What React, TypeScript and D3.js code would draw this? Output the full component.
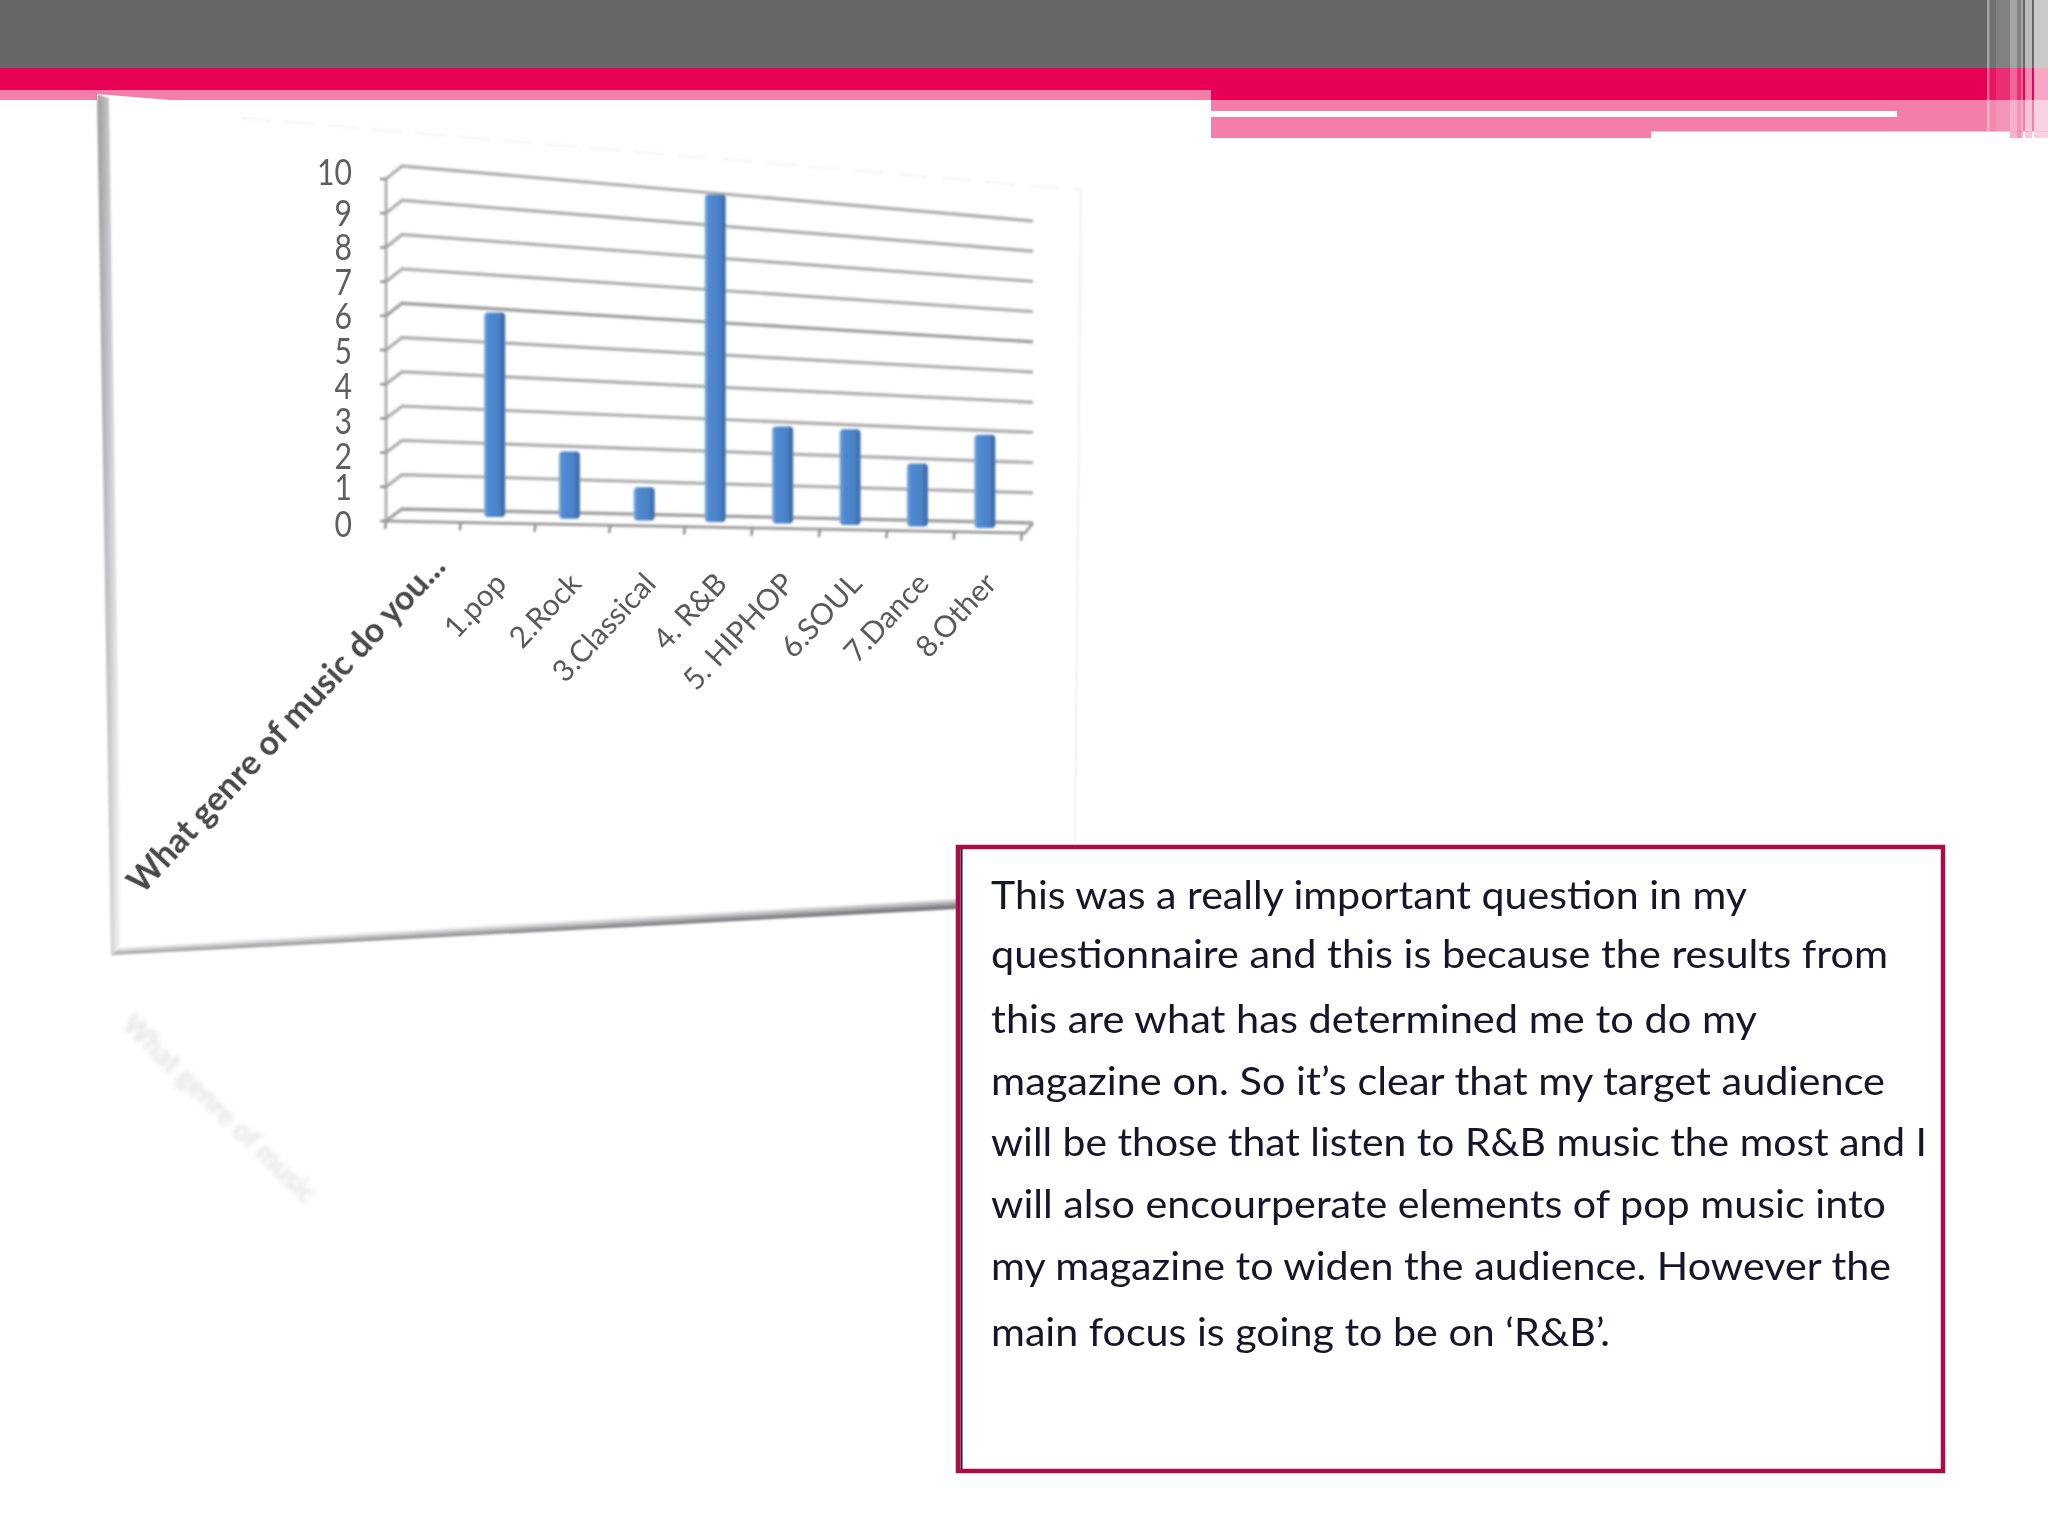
import React, { useEffect, useRef } from "react";
import * as d3 from "d3";

const categories = [
	"What genre of music do you...",
	"1.pop",
	"2.Rock",
	"3.Classical",
	"4. R&B",
	"5. HIPHOP",
	"6.SOUL",
	"7.Dance",
	"8.Other",
];
const responses = [0, 6, 2, 1, 10, 3, 3, 2, 3];
const yTicks = [0, 1, 2, 3, 4, 5, 6, 7, 8, 9, 10];

const noteLines = [
	"This was a really important question in my",
	"questionnaire and this is because the results from",
	"this are what has determined me to do my",
	"magazine on. So it\u2019s clear that my target audience",
	"will be those that listen to R&B music the most and I",
	"will also encourperate elements of pop music into",
	"my magazine to widen the audience. However the",
	"main focus is going to be on \u2018R&B\u2019.",
];
const noteBaselines = [909, 968, 1033, 1095, 1156, 1218, 1280, 1346];
const noteWidths = [756, 897, 766, 894, 936, 895, 900, 619];

// light stripes over the right end of the header: [x, width, white alpha]
const stripes = [
	[1987, 2.5, 0.4],
	[1989.5, 6.5, 0.08],
	[1996, 14, 0.18],
	[2010, 7, 0.4],
	[2017, 4, 0.18],
	[2021, 2, 0.4],
	[2025, 7, 0.55],
	[2034, 14, 0.65],
];

const App = () => {
	const svgRef = useRef<SVGSVGElement | null>(null);

	useEffect(() => {
		if (!svgRef.current) return;
		const svg = d3.select(svgRef.current);
		svg.selectAll("*").remove();

		const defs = svg.append("defs");
		const blur = (id: string, dev: number) =>
			defs
				.append("filter")
				.attr("id", id)
				.attr("x", "-20%")
				.attr("y", "-20%")
				.attr("width", "140%")
				.attr("height", "140%")
				.append("feGaussianBlur")
				.attr("stdDeviation", dev);
		blur("soft", 1.2);
		blur("softText", 0.7);
		blur("noteText", 0.5);
		blur("ghost", 2.6);

		const hGrad = (id: string, stops: [string, string][]) => {
			const g = defs.append("linearGradient").attr("id", id);
			stops.forEach(([o, c]) => g.append("stop").attr("offset", o).attr("stop-color", c));
			return g;
		};
		hGrad("barFill", [
			["0%", "#7fb0e4"],
			["18%", "#4f8ad2"],
			["70%", "#4a82c8"],
			["100%", "#3a64a0"],
		]);
		hGrad("bevelLeft", [
			["0%", "#9a9a9e"],
			["45%", "#c4c4c8"],
			["100%", "#ffffff"],
		]);
		hGrad("bevelBottom", [
			["0%", "#ffffff"],
			["55%", "#b8b8bc"],
			["100%", "#77777b"],
		])
			.attr("gradientUnits", "userSpaceOnUse")
			.attr("x1", 534)
			.attr("y1", 922)
			.attr("x2", 534.6)
			.attr("y2", 932);

		// header
		const header = svg.append("g");
		const band = (x: number, y: number, w: number, h: number, c: string) =>
			header.append("rect").attr("x", x).attr("y", y).attr("width", w).attr("height", h).attr("fill", c);
		band(0, 0, 2048, 68, "#666666");
		band(0, 68, 2048, 32, "#e70055");
		band(0, 90, 1211, 10, "#f27ea9");
		band(1211, 100, 837, 31.5, "#f27ea9");
		band(1211, 131, 440, 7, "#f27ea9");
		band(1211, 111, 686, 6, "#ffffff");
		header
			.selectAll("rect.stripe")
			.data(stripes)
			.join("rect")
			.attr("class", "stripe")
			.attr("x", (d) => d[0])
			.attr("y", 0)
			.attr("width", (d) => d[1])
			.attr("height", (d) => (d[0] >= 2010 ? 138 : 131.5))
			.attr("fill", "#ffffff")
			.attr("fill-opacity", (d) => d[2]);
		header
			.selectAll("rect.under")
			.data(stripes.filter((d) => d[0] >= 2010))
			.join("rect")
			.attr("class", "under")
			.attr("x", (d) => d[0])
			.attr("y", 131)
			.attr("width", (d) => d[1])
			.attr("height", 7)
			.attr("fill", "#f27ea9")
			.attr("fill-opacity", (d) => 1 - d[2]);

		// tilted picture frame
		const frame = svg.append("g");
		frame
			.append("polygon")
			.attr("points", "97,94 170,100 1081,190 1075,860 957,908 111,955")
			.attr("fill", "#ffffff");
		frame
			.append("polygon")
			.attr("points", "97,94 109,98 122,945 111,955")
			.attr("fill", "url(#bevelLeft)")
			.attr("filter", "url(#soft)");
		frame
			.append("polygon")
			.attr("points", "122,945 957,899 957,909 111,955")
			.attr("fill", "url(#bevelBottom)")
			.attr("filter", "url(#soft)");
		frame
			.append("path")
			.attr("d", "M1081,190L1075,843")
			.attr("stroke", "#f0f0f0")
			.attr("stroke-width", 2)
			.attr("filter", "url(#soft)");
		frame
			.append("path")
			.attr("d", "M240,118L1081,190")
			.attr("stroke", "#f6f6f6")
			.attr("stroke-width", 3)
			.attr("stroke-dasharray", "30 14")
			.attr("filter", "url(#soft)");

		// chart scales, one value scale for each end of the receding planes
		const xTick = d3.scaleLinear().domain([0, 4, 9]).range([386, 685, 1022]);
		const wallStart = d3.scaleLinear().domain([0, 10]).range([509, 166]);
		const wallEnd = d3.scaleLinear().domain([0, 10]).range([523, 221]);
		const frontStart = d3.scaleLinear().domain([0, 10]).range([521, 179]);
		const barStart = d3.scaleLinear().domain([0, 10]).range([517, 176]);
		const barEnd = d3.scaleLinear().domain([0, 10]).range([528, 217]);
		const barT = d3.scaleLinear().domain([494, 981]).range([0, 1]);
		const floorY = d3.scaleLinear().domain([386, 1025]).range([521, 533]);
		const labelY = d3.scaleLinear().domain([0, 1, 2, 5, 9, 10]).range([524, 487, 456, 351, 213, 172]);
		const barX = (i: number) => xTick(i + 0.5) - 3.5;
		const barY = (v: number, x: number) =>
			d3.interpolateNumber(barStart(v), barEnd(v))(barT(x));

		const chart = svg.append("g").attr("filter", "url(#soft)");
		const line = d3.line();

		chart
			.selectAll("path.grid")
			.data(yTicks)
			.join("path")
			.attr("class", "grid")
			.attr("d", (v) =>
				line([
					[386, frontStart(v)],
					[402, wallStart(v)],
					[1033, wallEnd(v)],
				])
			)
			.attr("fill", "none")
			.attr("stroke", (v) => (v === 6 || v === 0 ? "#a2a2a2" : "#b2b2b2"))
			.attr("stroke-width", 3.4);

		chart
			.append("path")
			.attr("d", line([[386, frontStart(0)], [386, frontStart(10)]]))
			.attr("stroke", "#a6a6a6")
			.attr("stroke-width", 2.5);
		chart
			.append("path")
			.attr("d", line([[386, floorY(386)], [1025, floorY(1025)], [1033, wallEnd(0)]]))
			.attr("fill", "none")
			.attr("stroke", "#a0a0a0")
			.attr("stroke-width", 3);

		chart
			.selectAll("path.ytick")
			.data(yTicks)
			.join("path")
			.attr("class", "ytick")
			.attr("d", (v) => line([[380, frontStart(v)], [386, frontStart(v)]]))
			.attr("stroke", "#909090")
			.attr("stroke-width", 2.5);
		chart
			.selectAll("path.xtick")
			.data(d3.range(categories.length + 1))
			.join("path")
			.attr("class", "xtick")
			.attr("d", (i) => {
				const x = xTick(i);
				return line([[x, floorY(x)], [x - 1, floorY(x) + 8]]);
			})
			.attr("stroke", "#909090")
			.attr("stroke-width", 2.5);

		chart
			.selectAll("rect.bar")
			.data(responses.map((v, i) => ({ v, i })).filter((d) => d.v > 0))
			.join("rect")
			.attr("class", "bar")
			.attr("x", (d) => barX(d.i) - 10.5)
			.attr("y", (d) => barY(d.v, barX(d.i)))
			.attr("width", 21)
			.attr("height", (d) => barY(0, barX(d.i)) - barY(d.v, barX(d.i)))
			.attr("rx", 4)
			.attr("fill", "url(#barFill)");

		const labels = svg.append("g").attr("filter", "url(#softText)");
		labels
			.selectAll("text.ylabel")
			.data(yTicks)
			.join("text")
			.attr("class", "ylabel")
			.attr("transform", (v) => `translate(352,${labelY(v)}) scale(0.84,1)`)
			.attr("dy", "0.36em")
			.attr("text-anchor", "end")
			.attr("font-family", "Lato")
			.attr("font-size", 36)
			.attr("fill", "#5f5f5f")
			.text((v) => v);

		labels
			.selectAll("text.xlabel")
			.data(categories)
			.join("text")
			.attr("class", "xlabel")
			.attr("transform", (_, i) => `translate(${xTick(i + 0.5) + (i === 0 ? 24 : 10)},${i === 0 ? 568 : 585}) rotate(-47)`)
			.attr("text-anchor", "end")
			.attr("font-family", "Lato")
			.attr("font-size", (_, i) => (i === 0 ? 34 : 30))
			.attr("font-weight", (_, i) => (i === 0 ? 700 : 400))
			.attr("fill", (_, i) => (i === 0 ? "#4a4a4a" : "#5a5a5a"))
			.text((d) => d);

		// faded reflection of the first label below the frame
		svg
			.append("text")
			.attr("transform", "translate(134,1012) rotate(44)")
			.attr("dy", "0.7em")
			.attr("font-family", "Lato")
			.attr("font-weight", 700)
			.attr("font-size", 28)
			.attr("fill", "#cfcfcf")
			.attr("fill-opacity", 0.6)
			.attr("filter", "url(#ghost)")
			.text("What genre of music");

		// note box
		const note = svg.append("g");
		note
			.append("rect")
			.attr("x", 958)
			.attr("y", 847)
			.attr("width", 985)
			.attr("height", 624)
			.attr("fill", "#ffffff")
			.attr("stroke", "#a80d47")
			.attr("stroke-width", 4.5);
		note
			.append("path")
			.attr("d", "M961.5,849V1469")
			.attr("stroke", "#3a1030")
			.attr("stroke-width", 2);
		note
			.append("g")
			.attr("filter", "url(#noteText)")
			.selectAll("text")
			.data(noteLines)
			.join("text")
			.attr("x", 991)
			.attr("y", (_, i) => noteBaselines[i])
			.attr("textLength", (_, i) => noteWidths[i])
			.attr("lengthAdjust", "spacingAndGlyphs")
			.attr("font-family", "Lato")
			.attr("font-size", 38)
			.attr("fill", "#16162a")
			.text((d) => d);
	}, []);

	return (
		<svg
			ref={svgRef}
			width={2048}
			height={1536}
			viewBox="0 0 2048 1536"
			style={{ position: "absolute", left: 0, top: 0, display: "block", background: "#ffffff" }}
		></svg>
	);
};

export default App;
